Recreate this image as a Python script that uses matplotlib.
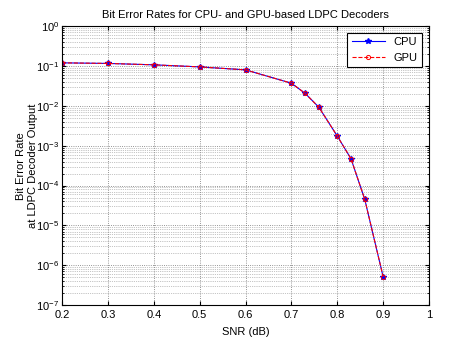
import numpy as np
import matplotlib
matplotlib.use("Agg")
import matplotlib.pyplot as plt
from matplotlib.ticker import LogLocator, FixedLocator

# SNR points and bit error rates
snr = [0.2, 0.3, 0.4, 0.5, 0.6, 0.7, 0.73, 0.76, 0.8, 0.83, 0.86, 0.9]
ber_cpu = [0.12, 0.116, 0.107, 0.095, 0.080, 0.037, 0.0206, 0.0092,
           0.00175, 4.7e-4, 4.5e-5, 5.2e-7]
ber_gpu = [0.12, 0.116, 0.107, 0.095, 0.080, 0.037, 0.0206, 0.0092,
           0.00175, 4.7e-4, 4.5e-5, 5.2e-7]
x_ticks = [0.2, 0.3, 0.4, 0.5, 0.6, 0.7, 0.8, 0.9, 1.0]
x_tick_labels = ["0.2", "0.3", "0.4", "0.5", "0.6", "0.7", "0.8", "0.9", "1"]

plt.rcParams["font.family"] = ["Liberation Sans", "DejaVu Sans"]
plt.rcParams["font.size"] = 8
plt.rcParams["mathtext.fontset"] = "custom"
plt.rcParams["mathtext.rm"] = "Liberation Sans"

fig = plt.figure(figsize=(4.74, 3.44), dpi=100)
ax = fig.add_axes([0.131, 0.113, 0.774, 0.811])

ax.semilogy(snr, ber_cpu, "b-*", linewidth=0.8, markersize=4, label="CPU")
ax.semilogy(snr, ber_gpu, "r--o", linewidth=0.8, markersize=3,
            markerfacecolor="none", markeredgewidth=0.7, label="GPU")

ax.set_xlim(0.2, 1.0)
ax.set_ylim(1e-7, 1)
ax.xaxis.set_major_locator(FixedLocator(x_ticks))
ax.set_xticklabels(x_tick_labels)
ax.yaxis.set_major_locator(LogLocator(base=10, numticks=10))
ax.yaxis.set_minor_locator(LogLocator(base=10, subs=np.arange(2, 10), numticks=10))
ax.yaxis.set_minor_formatter(plt.NullFormatter())

ax.grid(True, which="major", linestyle=":", color="0.45", linewidth=0.6)
ax.grid(True, which="minor", axis="y", linestyle=":", color="0.55", linewidth=0.5)
ax.tick_params(which="both", direction="in", top=True, right=True, length=3)
ax.tick_params(which="minor", length=1.5)
ax.tick_params(axis="y", pad=2)
for s in ax.spines.values():
    s.set_linewidth(0.8)

ax.set_title("Bit Error Rates for CPU- and GPU-based LDPC Decoders", fontsize=8, pad=6)
ax.set_xlabel("SNR (dB)", labelpad=5)
ax.set_ylabel("Bit Error Rate\nat LDPC Decoder Output", labelpad=-1)

leg = ax.legend(loc="upper right", fancybox=False, framealpha=1,
                edgecolor="black", borderaxespad=0.6, handlelength=3)
leg.get_frame().set_linewidth(0.8)

fig.savefig("out.png", dpi=100)
